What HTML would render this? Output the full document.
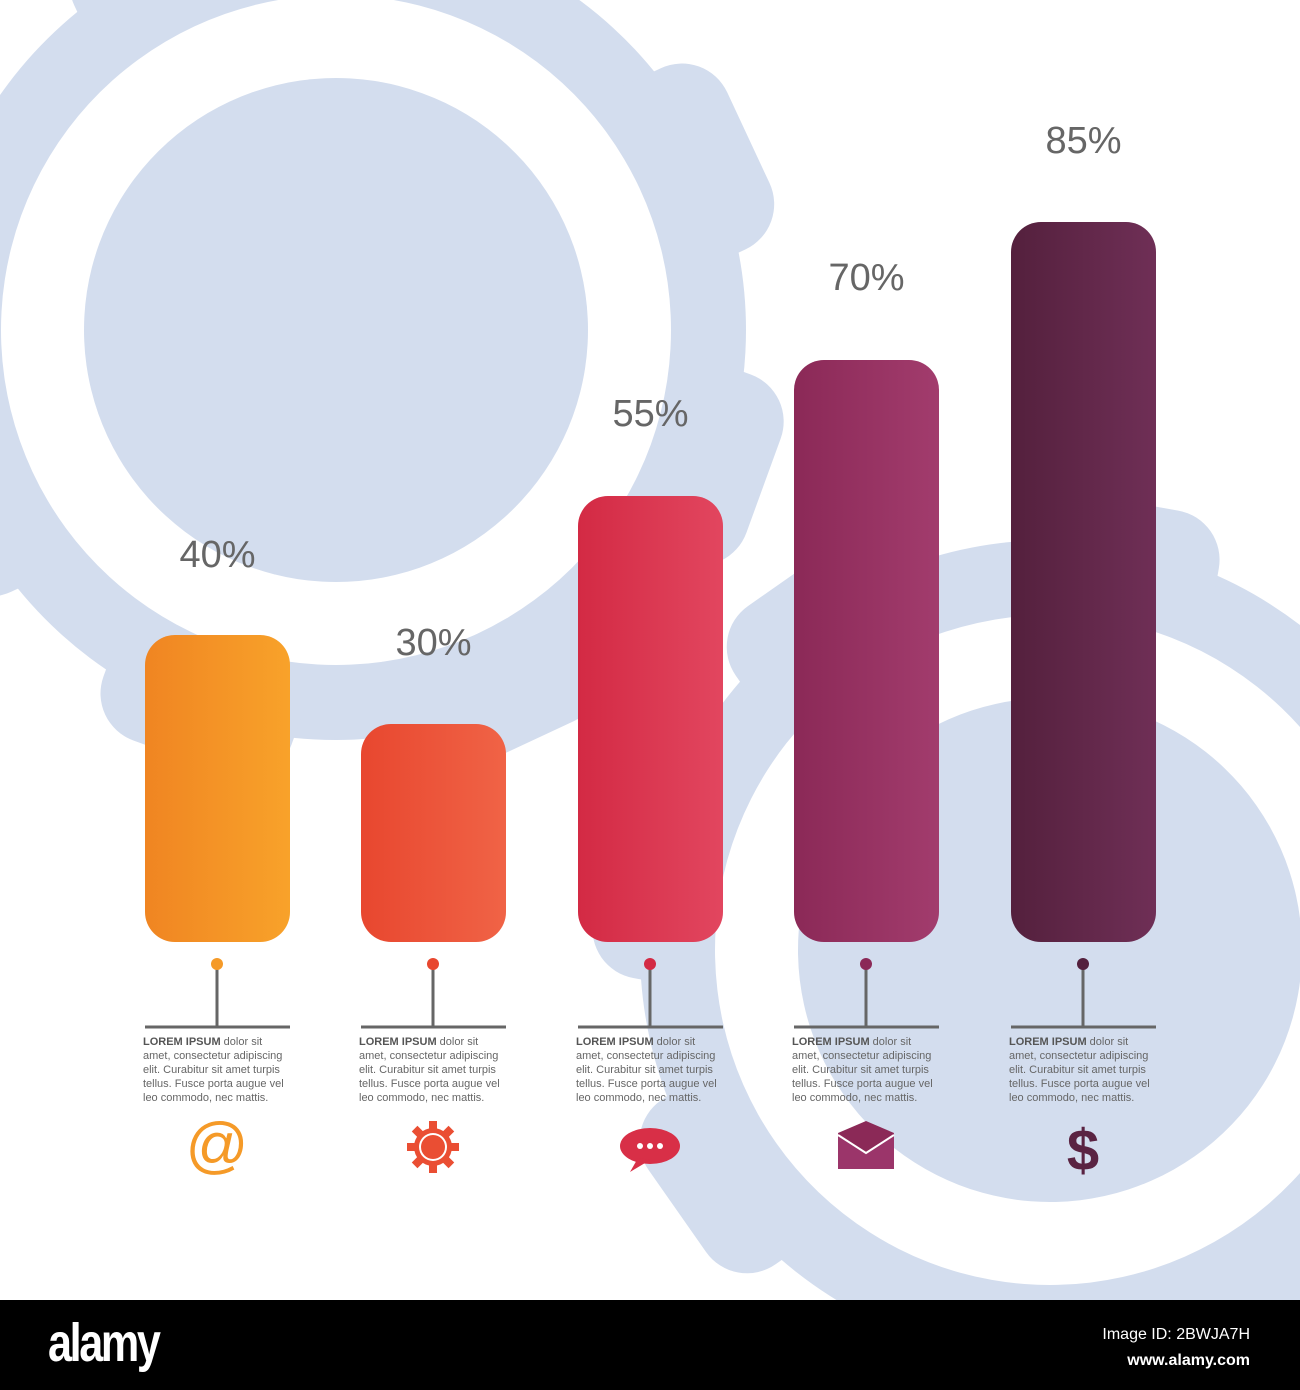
<!DOCTYPE html><html><head><style>
html,body{margin:0;width:1300px;height:1390px;overflow:hidden}
body{position:relative;background:#fff;font-family:"Liberation Sans",sans-serif}
.bar{position:absolute;width:145px;border-radius:30px}
.lab{position:absolute;width:145px;text-align:center;font-size:38px;color:#666}
.txt{position:absolute;width:170px;font-size:11px;line-height:14px;color:#666;top:1035px;white-space:nowrap}
.txt b{color:#555}
.foot{position:absolute;left:0;top:1300px;width:1300px;height:90px;background:#000}
</style></head><body>
<svg width="1300" height="1300" style="position:absolute;left:0;top:0">
<defs>
<g id="gear"><circle r="410" fill="#d3ddee"/>
<g fill="#d3ddee"><rect x="-100" y="-455" width="200" height="910" rx="50"/><rect x="-100" y="-455" width="200" height="910" rx="50" transform="rotate(45)"/><rect x="-100" y="-455" width="200" height="910" rx="50" transform="rotate(90)"/><rect x="-100" y="-455" width="200" height="910" rx="50" transform="rotate(135)"/></g>
<circle r="335" fill="#fff"/><circle r="252" fill="#d3ddee"/></g>
</defs>
<use href="#gear" transform="translate(336,330) rotate(20)"/>
<use href="#gear" transform="translate(1050,950) rotate(10)"/>
</svg>
<div class="bar" style="left:145px;top:635px;height:307px;background:linear-gradient(90deg,#f08522,#f8a22a)"></div>
<div class="bar" style="left:361px;top:724px;height:218px;background:linear-gradient(90deg,#e8472f,#f06346)"></div>
<div class="bar" style="left:578px;top:496px;height:446px;background:linear-gradient(90deg,#d32a44,#e2465f)"></div>
<div class="bar" style="left:794px;top:360px;height:582px;background:linear-gradient(90deg,#8b2957,#a23c6d)"></div>
<div class="bar" style="left:1011px;top:222px;height:720px;background:linear-gradient(90deg,#54203d,#6f2f56)"></div>
<div class="lab" style="left:145px;top:534px">40%</div>
<div class="lab" style="left:361px;top:622px">30%</div>
<div class="lab" style="left:578px;top:393px">55%</div>
<div class="lab" style="left:794px;top:257px">70%</div>
<div class="lab" style="left:1011px;top:120px">85%</div>
<svg width="1300" height="1300" style="position:absolute;left:0;top:0">
<g stroke="#666" stroke-width="3">
<path d="M217 964V1027M145 1027H290M433 964V1027M361 1027H506M650 964V1027M578 1027H723M866 964V1027M794 1027H939M1083 964V1027M1011 1027H1156"/></g>
<circle cx="217" cy="964" r="6" fill="#f59a28"/><circle cx="433" cy="964" r="6" fill="#e8472f"/><circle cx="650" cy="964" r="6" fill="#d32a44"/><circle cx="866" cy="964" r="6" fill="#8b2957"/><circle cx="1083" cy="964" r="6" fill="#54203d"/>
<text x="217" y="1166" font-family="Liberation Sans" font-size="62" fill="#f59a28" text-anchor="middle">@</text>
<g transform="translate(433,1147)" fill="#ea4e33"><circle r="19"/><g><rect x="-4" y="-26" width="8" height="52"/><rect x="-4" y="-26" width="8" height="52" transform="rotate(45)"/><rect x="-4" y="-26" width="8" height="52" transform="rotate(90)"/><rect x="-4" y="-26" width="8" height="52" transform="rotate(135)"/></g><circle r="14" fill="#fff"/><circle r="12"/></g>
<g transform="translate(650,1146)"><ellipse rx="30" ry="18" fill="#d82f47"/><path d="M-12 12 L-20 26 L0 14Z" fill="#d82f47"/><circle cx="-10" r="3" fill="#fff"/><circle r="3" fill="#fff"/><circle cx="10" r="3" fill="#fff"/></g>
<g transform="translate(866,1147)"><rect x="-28" y="-14" width="56" height="36" fill="#9b356a"/><path d="M-28 -14 L0 -26 L28 -14 L0 6Z" fill="#8b2957"/><path d="M-28 -12 L0 6 L28 -12" stroke="#fff" stroke-width="2" fill="none"/></g>
<text x="1083" y="1170" font-family="Liberation Sans" font-weight="bold" font-size="58" fill="#5a2342" text-anchor="middle">$</text>
</svg>
<div class="txt" style="left:143px"><b>LOREM IPSUM</b> dolor sit<br>amet, consectetur adipiscing<br>elit. Curabitur sit amet turpis<br>tellus. Fusce porta augue vel<br>leo commodo, nec mattis.</div>
<div class="txt" style="left:359px"><b>LOREM IPSUM</b> dolor sit<br>amet, consectetur adipiscing<br>elit. Curabitur sit amet turpis<br>tellus. Fusce porta augue vel<br>leo commodo, nec mattis.</div>
<div class="txt" style="left:576px"><b>LOREM IPSUM</b> dolor sit<br>amet, consectetur adipiscing<br>elit. Curabitur sit amet turpis<br>tellus. Fusce porta augue vel<br>leo commodo, nec mattis.</div>
<div class="txt" style="left:792px"><b>LOREM IPSUM</b> dolor sit<br>amet, consectetur adipiscing<br>elit. Curabitur sit amet turpis<br>tellus. Fusce porta augue vel<br>leo commodo, nec mattis.</div>
<div class="txt" style="left:1009px"><b>LOREM IPSUM</b> dolor sit<br>amet, consectetur adipiscing<br>elit. Curabitur sit amet turpis<br>tellus. Fusce porta augue vel<br>leo commodo, nec mattis.</div>
<div class="foot">
<div style="position:absolute;left:48px;top:12px;color:#fff;font-size:54px;font-weight:bold;letter-spacing:-3px;transform:scaleX(0.8);transform-origin:left">alamy</div>
<div style="position:absolute;right:50px;top:22px;color:#fff;font-size:16px;text-align:right;line-height:26px">Image ID: 2BWJA7H<br><b>www.alamy.com</b></div>
</div>
</body></html>
